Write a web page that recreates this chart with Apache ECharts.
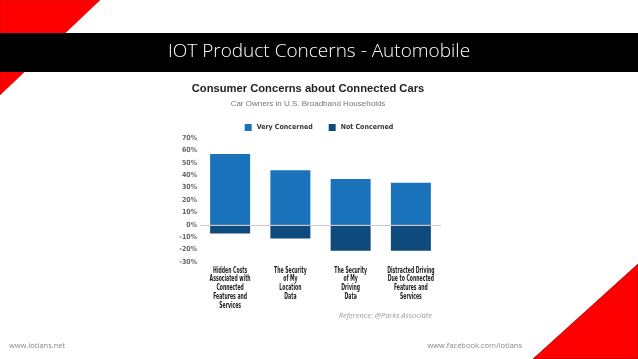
<!DOCTYPE html>
<html><head><meta charset="utf-8">
<script src="https://cdn.jsdelivr.net/npm/echarts@6/dist/echarts.min.js"></script>
<style>html,body{margin:0;padding:0;background:#fff}#c{width:638px;height:359px}</style>
</head><body><div id="c"></div>
<script>
const categories = [
  "Hidden Costs\nAssociated with\nConnected\nFeatures and\nServices",
  "The Security\nof My\nLocation\nData",
  "The Security\nof My\nDriving\nData",
  "Distracted Driving\nDue to Connected\nFeatures and\nServices"
];
const veryConcerned = [57, 44, 37, 34];
const notConcerned = [-7, -11, -21, -21];
const yTicks = { min: -30, max: 70, interval: 10 };

const chart = echarts.init(document.getElementById('c'), null, { renderer: 'canvas' });
const condensed = '"DejaVu Sans Condensed", "Liberation Sans Narrow", sans-serif';
const decor = [
  { type: 'polygon', z: -10, shape: { points: [[0,0],[100,0],[0,95]] }, style: { fill: '#ff0000', stroke: '#b00000', lineWidth: 0.5 } },
  { type: 'polygon', z: -10, shape: { points: [[533,359],[638,264],[638,359]] }, style: { fill: '#ff0000', stroke: '#a00000', lineWidth: 0.8 } },
  { type: 'rect', z: -5, shape: { x: 0, y: 33, width: 638, height: 39 }, style: { fill: '#000' } },
  { type: 'text', x: 319, y: 52, style: { text: 'IOT Product Concerns - Automobile', fill: '#fff', font: '300 19px "Open Sans", sans-serif', align: 'center', verticalAlign: 'middle' } },
  { type: 'text', x: 308, y: 89, style: { text: 'Consumer Concerns about Connected Cars', fill: '#222', font: 'bold 11.2px "Liberation Sans", sans-serif', align: 'center', verticalAlign: 'middle' } },
  { type: 'text', x: 308, y: 104, style: { text: 'Car Owners in U.S. Broadband Households', fill: '#777', font: '8px "Liberation Sans", sans-serif', align: 'center', verticalAlign: 'middle' } },
  { type: 'text', x: 432, y: 316, style: { text: 'Reference: @Parks Associate', fill: '#999', font: 'italic 7.5px "Open Sans", sans-serif', align: 'right', verticalAlign: 'middle' } },
  { type: 'text', x: 9, y: 346, style: { text: 'www.iotians.net', fill: '#888', font: '7.5px "Open Sans", sans-serif', align: 'left', verticalAlign: 'middle' } },
  { type: 'text', x: 522, y: 346, style: { text: 'www.facebook.com/iotians', fill: '#888', font: '7.5px "Open Sans", sans-serif', align: 'right', verticalAlign: 'middle' } }
];
chart.setOption({
  backgroundColor: '#fff',
  animation: false,
  graphic: decor,
  legend: {
    top: 119, left: 'center',
    itemWidth: 7, itemHeight: 7, itemGap: 16,
    icon: 'rect',
    textStyle: { fontSize: 7, fontWeight: 'bold', color: '#333', fontFamily: condensed },
    data: ['Very Concerned', 'Not Concerned']
  },
  grid: { left: 200, right: 197, top: 138, bottom: 97, containLabel: false },
  xAxis: {
    type: 'category', data: categories,
    axisLine: { show: false }, axisTick: { show: false },
    axisLabel: { show: false }
  },
  yAxis: {
    type: 'value', min: yTicks.min, max: yTicks.max, interval: yTicks.interval,
    axisLine: { show: false }, axisTick: { show: false }, splitLine: { show: false },
    axisLabel: { formatter: '{value}%', fontSize: 7, margin: 3, color: '#666', fontWeight: 'bold', fontFamily: condensed }
  },
  series: [
    { name: 'Very Concerned', type: 'bar', stack: 's', barWidth: 40, data: veryConcerned,
      itemStyle: { color: '#1a72bb' },
      markLine: { silent: true, symbol: 'none', label: { show: false }, lineStyle: { color: '#c8c8c8', type: 'solid', width: 1 }, data: [{ yAxis: 0 }] } },
    { name: 'Not Concerned', type: 'bar', stack: 's', barWidth: 40, data: notConcerned,
      itemStyle: { color: '#0e4a7c' } }
  ]
});
// category labels drawn at positions computed by the axis scale, horizontally condensed
const labelY = chart.convertToPixel({ yAxisIndex: 0 }, yTicks.min) + 4;
const labels = categories.map((c, i) => ({
  type: 'text', id: 'cat' + i,
  x: chart.convertToPixel({ xAxisIndex: 0 }, i), y: labelY,
  scaleX: 0.6, scaleY: 1,
  style: { text: c, fill: '#222', font: 'bold 8.5px "DejaVu Sans Condensed", sans-serif', lineHeight: 8.8, align: 'center', verticalAlign: 'top' }
}));
chart.setOption({ graphic: decor.concat(labels) }, { replaceMerge: ['graphic'] });
</script></body></html>
